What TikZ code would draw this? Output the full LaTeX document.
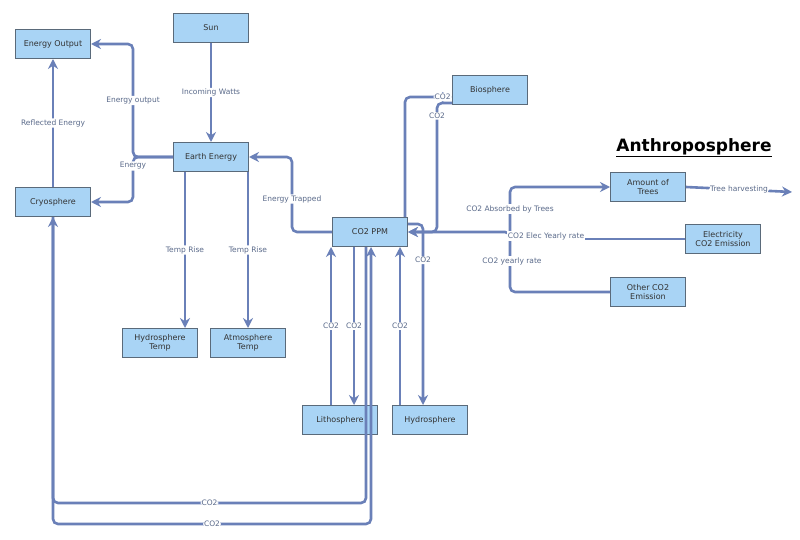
\documentclass[tikz,border=0pt]{standalone}
\usepackage{fontspec}
\setmainfont{DejaVu Sans}
\usetikzlibrary{arrows.meta}
\definecolor{boxf}{HTML}{A9D4F5}
\definecolor{boxd}{HTML}{5A6A7A}
\definecolor{ln}{HTML}{6A80B8}
\definecolor{lbl}{HTML}{5A6A8A}
\begin{document}
\begin{tikzpicture}[x=1pt,y=-1pt,
  box/.style={draw=boxd,fill=boxf,line width=1pt,minimum width=75pt,minimum height=29pt,inner sep=1pt,align=center,font=\fontsize{8}{9}\selectfont,text=black!80},
  con/.style={draw=ln,line width=2.6pt,rounded corners=5pt,-{Stealth[length=10pt,width=10pt]}},
  lin/.style={draw=ln,line width=2.6pt,rounded corners=5pt},
  lab/.style={fill=white,inner sep=1pt,text=lbl,font=\fontsize{7.5}{9}\selectfont}]
\useasboundingbox (0,0) rectangle (800,540);
\fill[white] (0,0) rectangle (800,540);
\node[box] (eo) at (53,44) {Energy Output};
\node[box] (sun) at (211,28) {Sun};
\node[box] (ee) at (211,157) {Earth Energy};
\node[box] (cry) at (53,202) {Cryosphere};
\node[box] (co2) at (370,232) {CO2 PPM};
\node[box] (bio) at (490,90) {Biosphere};
\node[box] (tree) at (648,187) {Amount of\\Trees};
\node[box] (elec) at (723,239) {Electricity\\CO2 Emission};
\node[box] (oth) at (648,292) {Other CO2\\Emission};
\node[box] (ht) at (160,343) {Hydrosphere\\Temp};
\node[box] (at) at (248,343) {Atmosphere\\Temp};
\node[box] (lit) at (340,420) {Lithosphere};
\node[box] (hyd) at (430,420) {Hydrosphere};
\node[font=\bfseries\fontsize{17}{20}\selectfont] (anth) at (694,148) {\underline{Anthroposphere}};
\coordinate (harv) at (792,192);

\draw[con] (sun) -- node[lab,pos=0.5]{Incoming Watts} (ee);
\draw[con] (ee.west) -| (133,44) node[lab,pos=0.75]{Energy output} -- (eo.east);
\draw[con] (ee.west) -| (133,202) node[lab,pos=0.6]{Energy} -- (cry.east);
\draw[con] (cry) -- node[lab]{Reflected Energy} (eo);
\draw[con] (ee.south -| 185,0) -- node[lab,pos=0.5]{Temp Rise} (ht.north -| 185,0);
\draw[con] (ee.south -| 248,0) -- node[lab,pos=0.5]{Temp Rise} (at.north);
\draw[con] (co2.west) -| (292,157) node[lab,pos=0.72]{Energy Trapped} -- (ee.east);
\draw[con] (co2.north -| 405,0) |- node[lab,pos=0.9]{CO2} (bio.west |- 0,97);
\draw[con] (bio.west |- 0,103) -| (437,232) node[lab,pos=0.55]{CO2} -- (co2.east);
\draw[con] (510,232) |- (tree.west);
\node[lab] at (510,209) {CO2 Absorbed by Trees};
\draw[con] (oth.west) -| (510,232) -- (co2.east);
\draw[lin] (elec.west) -- (510,239);
\node[lab] at (546,236) {CO2 Elec Yearly rate};
\node[lab] at (512,261) {CO2 yearly rate};
\draw[con] (tree.east) -- node[lab]{Tree harvesting} (harv);
\draw[con] (lit.north -| 331,0) -- node[lab]{CO2} (co2.south -| 331,0);
\draw[con] (co2.south -| 354,0) -- node[lab]{CO2} (lit.north -| 354,0);
\draw[con] (hyd.north -| 400,0) -- node[lab]{CO2} (co2.south -| 400,0);
\draw[con] (co2.east |- 0,224) -| node[lab,pos=0.6]{CO2} (hyd.north -| 423,0);
\draw[con] (co2.south -| 366,0) |- (53,503) node[lab,pos=0.75]{CO2} -- (cry.south);
\draw[con] (cry.south) |- (371,524) node[lab,pos=0.75]{CO2} -- (co2.south -| 371,0);
\end{tikzpicture}
\end{document}
